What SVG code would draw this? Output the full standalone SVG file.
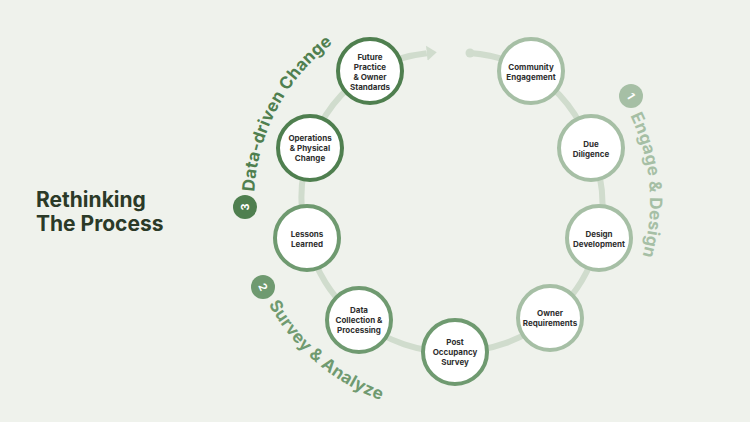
<svg xmlns="http://www.w3.org/2000/svg" xmlns:xlink="http://www.w3.org/1999/xlink" width="750" height="422" viewBox="0 0 750 422">
  <style>
    .bg { fill: #eff2ec; }
    .ring { fill: none; stroke: #d0dccd; stroke-width: 6; stroke-linecap: round; }
    .node { fill: #ffffff; stroke-width: 4; }
    .dark { stroke: #4f7f4f; }
    .mid { stroke: #6f9a70; }
    .light { stroke: #a6bfa5; }
    .ntext { font-family: Inter, "Liberation Sans", sans-serif; font-weight: 700; font-size: 8px; fill: #2e2e2e; text-anchor: middle; }
    .title { font-family: Inter, "Liberation Sans", sans-serif; font-weight: 700; font-size: 21px; fill: #2b3a28; }
    .arc { font-family: Inter, "Liberation Sans", sans-serif; font-weight: 700; font-size: 17px; letter-spacing: 0.3px; }
    .badge-t { font-family: Inter, "Liberation Sans", sans-serif; font-weight: 700; font-size: 11px; fill: #ffffff; text-anchor: middle; }
  </style>
  <defs>
    <marker id="arrow" markerUnits="userSpaceOnUse" markerWidth="12" markerHeight="18" refX="0" refY="8" orient="auto">
      <path d="M0,0.5 L10,8 L0,15.5 z" fill="#d0dccd"/>
    </marker>
    <path id="p-data" d="M 254.3,191.6 A 199 199 0 0 1 368.9,21.6"/>
    <path id="p-engage" d="M 630.1,115.6 A 197 197 0 0 1 603.9,328.6"/>
    <path id="p-survey" d="M 268.5,304.3 A 211 211 0 0 0 434.6,412.2"/>
  </defs>

  <rect class="bg" x="0" y="0" width="750" height="422"/>

  <g id="title">
    <text class="title" x="36" y="207">Rethinking</text>
    <text class="title" x="36" y="231">The Process</text>
  </g>

  <g id="connectors">
    <path class="ring" marker-end="url(#arrow)" d="M 531,71 A 151 151 0 0 1 591,148 A 151 151 0 0 1 599,238 A 151 151 0 0 1 550,318 A 151 151 0 0 1 455,352 A 151 151 0 0 1 359,320 A 151 151 0 0 1 307,238 A 151 151 0 0 1 310,148 A 151 151 0 0 1 370,71 A 151 151 0 0 1 426.8,53.3" style="stroke-linecap: butt"/>
    <circle cx="470" cy="53" r="4.5" fill="#d0dccd"/>
    <path class="ring" d="M 470,53 A 151 151 0 0 1 531,71"/>
  </g>

  <g id="phase-labels">
    <g id="label-data-driven">
      <circle cx="245" cy="207" r="12" fill="#4f7f4f"/>
      <text class="badge-t" x="245" y="211" transform="rotate(-91 245 207)">3</text>
      <text class="arc" fill="#4f7f4f"><textPath xlink:href="#p-data" href="#p-data">Data-driven Change</textPath></text>
    </g>
    <g id="label-survey">
      <circle cx="263" cy="287" r="12" fill="#6f9a70"/>
      <text class="badge-t" x="263" y="291" transform="rotate(66 263 287)">2</text>
      <text class="arc" fill="#6f9a70"><textPath xlink:href="#p-survey" href="#p-survey">Survey &amp; Analyze</textPath></text>
    </g>
    <g id="label-engage">
      <circle cx="631" cy="96" r="12" fill="#a6bfa5"/>
      <text class="badge-t" x="631" y="100" transform="rotate(59 631 96)">1</text>
      <text class="arc" fill="#a6bfa5"><textPath xlink:href="#p-engage" href="#p-engage">Engage &amp; Design</textPath></text>
    </g>
  </g>

  <g id="node-community">
    <circle class="node light" cx="531" cy="71" r="32"/>
    <text class="ntext" x="531" y="70">Community</text>
    <text class="ntext" x="531" y="80">Engagement</text>
  </g>
  <g id="node-due-diligence">
    <circle class="node light" cx="591" cy="148" r="32"/>
    <text class="ntext" x="591" y="147">Due</text>
    <text class="ntext" x="591" y="157">Diligence</text>
  </g>
  <g id="node-design-development">
    <circle class="node light" cx="599" cy="238" r="32"/>
    <text class="ntext" x="599" y="237">Design</text>
    <text class="ntext" x="599" y="247">Development</text>
  </g>
  <g id="node-owner-requirements">
    <circle class="node light" cx="550" cy="318" r="32"/>
    <text class="ntext" x="550" y="316">Owner</text>
    <text class="ntext" x="550" y="326">Requirements</text>
  </g>
  <g id="node-post-occupancy">
    <circle class="node mid" cx="455" cy="352" r="32"/>
    <text class="ntext" x="455" y="345">Post</text>
    <text class="ntext" x="455" y="355">Occupancy</text>
    <text class="ntext" x="455" y="365">Survey</text>
  </g>
  <g id="node-data-collection">
    <circle class="node mid" cx="359" cy="320" r="32"/>
    <text class="ntext" x="359" y="313">Data</text>
    <text class="ntext" x="359" y="323">Collection &amp;</text>
    <text class="ntext" x="359" y="333">Processing</text>
  </g>
  <g id="node-lessons-learned">
    <circle class="node mid" cx="307" cy="238" r="32"/>
    <text class="ntext" x="307" y="237">Lessons</text>
    <text class="ntext" x="307" y="247">Learned</text>
  </g>
  <g id="node-operations">
    <circle class="node dark" cx="310" cy="148" r="32"/>
    <text class="ntext" x="310" y="141">Operations</text>
    <text class="ntext" x="310" y="151">&amp; Physical</text>
    <text class="ntext" x="310" y="161">Change</text>
  </g>
  <g id="node-future-practice">
    <circle class="node dark" cx="370" cy="71" r="32"/>
    <text class="ntext" x="370" y="60">Future</text>
    <text class="ntext" x="370" y="70">Practice</text>
    <text class="ntext" x="370" y="80">&amp; Owner</text>
    <text class="ntext" x="370" y="90">Standards</text>
  </g>
</svg>
